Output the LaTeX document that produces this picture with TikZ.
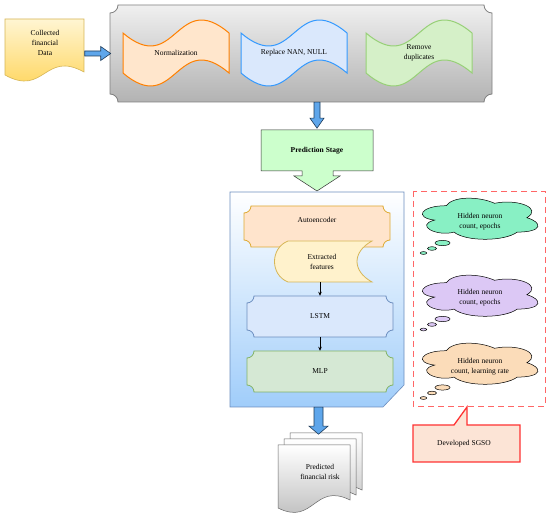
\documentclass[tikz,border=0pt]{standalone}
\usepackage{fontspec}
\setmainfont{Liberation Serif}
\usetikzlibrary{arrows.meta}
\definecolor{bArrow}{RGB}{94,166,235}
\definecolor{bArrowLine}{RGB}{31,60,90}
\definecolor{normLine}{RGB}{255,128,0}
\definecolor{normFill}{RGB}{255,230,204}
\definecolor{repLine}{RGB}{51,153,255}
\definecolor{repFill}{RGB}{218,232,252}
\definecolor{remLine}{RGB}{151,208,119}
\definecolor{remFill}{RGB}{213,240,200}
\definecolor{docLine}{RGB}{214,182,86}
\definecolor{docTop}{RGB}{255,245,210}
\definecolor{docBot}{RGB}{255,210,80}
\definecolor{predFill}{RGB}{204,255,204}
\definecolor{boxLine}{RGB}{108,142,191}
\definecolor{boxBot}{RGB}{160,205,250}
\definecolor{autoLine}{RGB}{222,170,50}
\definecolor{autoFill}{RGB}{255,228,204}
\definecolor{extLine}{RGB}{214,182,86}
\definecolor{extFill}{RGB}{255,242,204}
\definecolor{lstmLine}{RGB}{108,142,191}
\definecolor{lstmFill}{RGB}{218,232,252}
\definecolor{mlpLine}{RGB}{130,179,102}
\definecolor{mlpFill}{RGB}{213,232,212}
\definecolor{redDash}{RGB}{255,102,102}
\definecolor{calloutLine}{RGB}{255,51,51}
\definecolor{calloutFill}{RGB}{252,228,214}
\definecolor{cloudA}{RGB}{136,240,196}
\definecolor{cloudB}{RGB}{220,200,245}
\definecolor{cloudC}{RGB}{251,220,185}
\newcommand\plaquepath[5]{({#1+#5},{#2}) -- ({#3-#5},{#2}) .. controls ({#3-#5},{#2+0.552*#5}) and ({#3-0.552*#5},{#2+#5}) .. ({#3},{#2+#5}) -- ({#3},{#4-#5}) .. controls ({#3-0.552*#5},{#4-#5}) and ({#3-#5},{#4-0.552*#5}) .. ({#3-#5},{#4}) -- ({#1+#5},{#4}) .. controls ({#1+#5},{#4-0.552*#5}) and ({#1+0.552*#5},{#4-#5}) .. ({#1},{#4-#5}) -- ({#1},{#2+#5}) .. controls ({#1+0.552*#5},{#2+#5}) and ({#1+#5},{#2+0.552*#5}) .. ({#1+#5},{#2}) -- cycle}
\newcommand\tapepath[5]{(#1,#3) .. controls ({(#1+#2)/2},{#3+#5}) and ({(#1+#2)/2},{#3-#5}) .. (#2,#3) -- (#2,#4) .. controls ({(#1+#2)/2},{#4-#5}) and ({(#1+#2)/2},{#4+#5}) .. (#1,#4) -- cycle}
\newcommand\docpath[6]{(#1,#3) -- (#2,#3) -- (#2,#5) .. controls ({(#1+#2)/2},{#5-#6}) and ({(#1+#2)/2},{#4+#6}) .. (#1,#4) -- cycle}
\newcommand\cloudpath[4]{({#1+0.25*#3},{#2+0.25*#4}) .. controls ({#1+0.05*#3},{#2+0.25*#4}) and ({#1},{#2+0.5*#4}) .. ({#1+0.16*#3},{#2+0.55*#4}) .. controls ({#1},{#2+0.66*#4}) and ({#1+0.18*#3},{#2+0.9*#4}) .. ({#1+0.31*#3},{#2+0.8*#4}) .. controls ({#1+0.4*#3},{#2+#4}) and ({#1+0.7*#3},{#2+#4}) .. ({#1+0.8*#3},{#2+0.8*#4}) .. controls ({#1+#3},{#2+0.8*#4}) and ({#1+#3},{#2+0.6*#4}) .. ({#1+0.875*#3},{#2+0.5*#4}) .. controls ({#1+#3},{#2+0.3*#4}) and ({#1+0.8*#3},{#2+0.1*#4}) .. ({#1+0.625*#3},{#2+0.2*#4}) .. controls ({#1+0.5*#3},{#2+0.05*#4}) and ({#1+0.3*#3},{#2+0.05*#4}) .. ({#1+0.25*#3},{#2+0.25*#4}) -- cycle}
\begin{document}
\begin{tikzpicture}[x=1pt,y=-1pt,
  txt/.style={font=\fontsize{7.5}{10}\selectfont, align=center, inner sep=0pt},
  blockarrow/.style={fill=bArrow, draw=bArrowLine, line width=0.6pt, line join=miter},
  smallarrow/.style={-{Stealth[length=4pt,width=3.5pt]}, line width=0.7pt},
  bubble/.style={draw=black, line width=0.5pt},
  cloudline/.style={draw=black, line width=0.5pt}]
\useasboundingbox (0,0) rectangle (550,513);
\fill[white] (0,0) rectangle (550,513);

% collected data document
\shade[top color=docTop, bottom color=docBot] \docpath{5}{84}{19}{75}{72}{22};
\draw[docLine, line width=0.6pt] \docpath{5}{84}{19}{75}{72}{22};
\node[txt, minimum width=79, minimum height=55] (coll) at (45,43) {Collected\\financial\\Data};

% gray plaque
\shade[top color=black!6, bottom color=black!30] \plaquepath{110}{5}{492}{102}{8};
\draw[black!50, line width=0.8pt] \plaquepath{110}{5}{492}{102}{8};
\node[inner sep=0, minimum width=382, minimum height=97] (prep) at (301,53.5) {};

% arrow collected -> plaque
\coordinate (a1s) at (84,53.5);
\draw[blockarrow] (coll.east |- a1s) ++(0,-2.5) -- ++(16,0) -- ++(0,-4.5) -- ++(10,7) -- ++(-10,7) -- ++(0,-4.5) -- ++(-16,0) -- cycle;

% tapes
\draw[normLine, fill=normFill, line width=1pt] \tapepath{123}{229}{33}{73}{45};
\node[txt] (norm) at (176,53) {Normalization};
\draw[repLine, fill=repFill, line width=1pt] \tapepath{241}{347}{33}{73}{45};
\node[txt] (repl) at (294,53) {Replace NAN, NULL};
\draw[remLine, fill=remFill, line width=1pt] \tapepath{366}{472}{33}{73}{45};
\node[txt] (remd) at (419,53) {Remove\\duplicates};

% prediction stage
\draw[fill=predFill, draw=black!80, line width=0.5pt] (261,130) -- (373,130) -- (373,171) -- (333,171) -- (333,176) -- (340,176) -- (317,191) -- (294,176) -- (302,176) -- (302,171) -- (261,171) -- cycle;
\node[txt, minimum width=112, minimum height=41] (pred) at (317,150.5) {\textbf{Prediction Stage}};

% arrow plaque -> prediction
\draw[blockarrow] (prep.south -| pred.north) ++(-3,0) -- ++(6,0) -- ++(0,16) -- ++(4,0) -- ++(-7,10) -- ++(-7,-10) -- ++(4,0) -- cycle;

% big blue box
\shade[top color=white, bottom color=boxBot] (230,192) -- (404,192) -- (404,385) -- (383,407) -- (230,407) -- cycle;
\draw[boxLine, line width=0.6pt] (230,192) -- (404,192) -- (404,385) -- (383,407) -- (230,407) -- cycle;
\node[inner sep=0, minimum width=174, minimum height=215] (model) at (317,299.5) {};

% autoencoder
\draw[autoLine, fill=autoFill, line width=0.8pt] \plaquepath{244}{206}{390}{247}{7};
\node[txt, minimum width=146, minimum height=41] (auto) at (317,220) {Autoencoder};
% extracted features
\draw[extLine, fill=extFill, line width=0.8pt] (288,241) -- (372,241) .. controls (352,252) and (352,271) .. (372,282) -- (288,282) .. controls (270,275) and (270,248) .. (288,241) -- cycle;
\node[txt, minimum width=84, minimum height=41] (ext) at (322,261.5) {Extracted\\features};
% LSTM
\draw[lstmLine, fill=lstmFill, line width=0.8pt] \plaquepath{247}{296}{393}{337}{7};
\node[txt, minimum width=146, minimum height=41] (lstm) at (320,316.5) {LSTM};
% MLP
\draw[mlpLine, fill=mlpFill, line width=0.8pt] \plaquepath{247}{351}{393}{392}{7};
\node[txt, minimum width=146, minimum height=41] (mlp) at (320,371.5) {MLP};

\draw[smallarrow] (ext.south -| lstm.north) -- (lstm.north);
\draw[smallarrow] (lstm.south) -- (mlp.north);

% predicted financial risk documents
\shade[top color=white, bottom color=black!25] \docpath{290}{362}{433}{496}{490}{18};
\draw[black!60, line width=0.5pt] \docpath{290}{362}{433}{496}{490}{18};
\shade[top color=white, bottom color=black!25] \docpath{284}{356}{439}{502}{495}{18};
\draw[black!60, line width=0.5pt] \docpath{284}{356}{439}{502}{495}{18};
\shade[top color=white, bottom color=black!28] \docpath{278}{350}{445}{508}{500}{18};
\draw[black!60, line width=0.5pt] \docpath{278}{350}{445}{508}{500}{18};
\node[txt, minimum width=72, minimum height=40] (risk) at (320,472) {Predicted\\financial risk};

% arrow model -> risk
\coordinate (rtop) at (318.5,445);
\draw[blockarrow] (model.south -| rtop) ++(-4.5,0) -- ++(9,0) -- ++(0,19) -- ++(5,0) -- ++(-9.5,8) -- ++(-9.5,-8) -- ++(5,0) -- cycle;

% red dashed region
\draw[redDash, line width=0.9pt, dash pattern=on 6pt off 4pt] (413,191) rectangle (545,406);
\node[inner sep=0, minimum width=132, minimum height=215] (sgsoreg) at (479,298.5) {};

% clouds
\draw[cloudline, fill=cloudA] \cloudpath{414}{193.7}{129}{48};
\node[txt] (c1) at (480,222) {Hidden neuron\\count, epochs};
\draw[bubble, fill=cloudA] (442.5,243) ellipse [x radius=7.5, y radius=2.6];
\draw[bubble, fill=cloudA] (432,248.5) ellipse [x radius=4.5, y radius=1.8];
\draw[bubble, fill=cloudA] (423.5,253) ellipse [x radius=3.2, y radius=1.4];

\draw[cloudline, fill=cloudB] \cloudpath{414}{270.7}{129}{48};
\node[txt] (c2) at (480,298) {Hidden neuron\\count, epochs};
\draw[bubble, fill=cloudB] (442.5,319) ellipse [x radius=7.5, y radius=2.6];
\draw[bubble, fill=cloudB] (432,324.5) ellipse [x radius=4.5, y radius=1.8];
\draw[bubble, fill=cloudB] (423.5,329.5) ellipse [x radius=3.2, y radius=1.4];

\draw[cloudline, fill=cloudC] \cloudpath{414}{338.7}{129}{48};
\node[txt] (c3) at (480,366.5) {Hidden neuron\\count, learning rate};
\draw[bubble, fill=cloudC] (442.5,387.5) ellipse [x radius=7.5, y radius=2.6];
\draw[bubble, fill=cloudC] (432,393) ellipse [x radius=4.5, y radius=1.8];
\draw[bubble, fill=cloudC] (423.5,398) ellipse [x radius=3.2, y radius=1.4];

% callout
\draw[calloutLine, fill=calloutFill, line width=1.3pt, line join=miter] (413,425) -- (454,425) -- (467,407) -- (467,425) -- (520,425) -- (520,462) -- (413,462) -- cycle;
\node[txt, minimum width=107, minimum height=37] (sgso) at (464,443.5) {Developed SGSO};
\end{tikzpicture}
\end{document}
